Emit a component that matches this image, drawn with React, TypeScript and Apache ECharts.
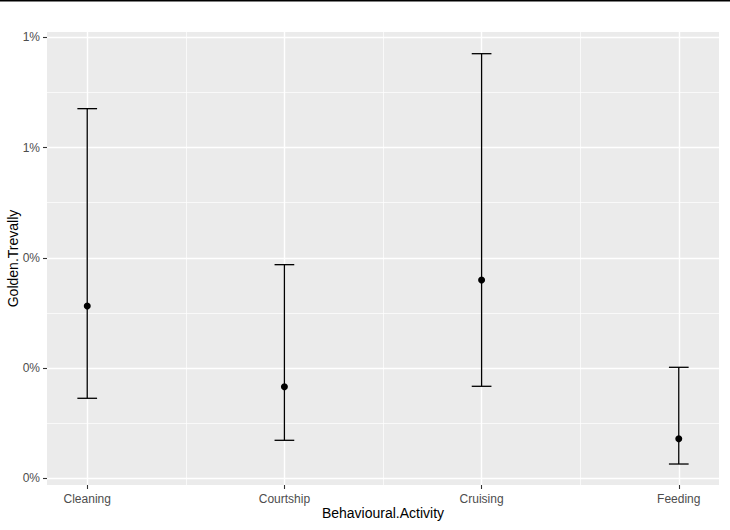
import * as echarts from 'echarts';
import { useEffect, useRef } from 'react';

const categories = ['Cleaning', 'Courtship', 'Cruising', 'Feeding'];
const means = [0.3907, 0.2076, 0.4496, 0.0896];
const lowers = [0.1813, 0.086, 0.2085, 0.0322];
const uppers = [0.8383, 0.4844, 0.963, 0.2516];

const yBreaks = [0, 0.25, 0.5, 0.75, 1];
const yMinorBreaks = [0.125, 0.375, 0.625, 0.875];
const xBreaks = [0, 1, 2, 3];
const xMinorBreaks = [0.5, 1.5, 2.5];

const FONT = '"Liberation Sans", Arial, sans-serif';

// R's percent() rounds half to even, hence "0%" for 0.5%
const pctLabel = (v: number) => {
  const f = Math.floor(v);
  const d = v - f;
  let r = f;
  if (d > 0.5 + 1e-9) r = f + 1;
  else if (Math.abs(d - 0.5) <= 1e-9) r = f % 2 === 0 ? f : f + 1;
  return r + '%';
};

const hiddenLine = { show: true, onZero: false, lineStyle: { color: 'rgba(0,0,0,0)' } };

function App() {
  const chartRef = useRef(null);

  useEffect(() => {
    document.body.style.margin = '0';
    const myChart = echarts.init(chartRef.current, null, { renderer: 'svg' });

    const xRange = { min: -0.204, max: 3.204 };
    const yRange = { min: -0.0154, max: 1.0122 };

    const option = {
      animation: false,
      backgroundColor: '#ffffff',
      textStyle: { fontFamily: FONT },
      graphic: [
        {
          type: 'rect',
          shape: { x: 0, y: 0, width: 730, height: 1.5 },
          style: { fill: '#000000' },
        },
      ],
      grid: {
        left: 47,
        right: 11,
        top: 32,
        bottom: 45,
        show: true,
        backgroundColor: '#EBEBEB',
        borderWidth: 0,
        containLabel: false,
        outerBoundsMode: 'none',
      },
      xAxis: [
        {
          type: 'value',
          ...xRange,
          position: 'bottom',
          name: 'Behavioural.Activity',
          nameLocation: 'middle',
          nameGap: 21,
          nameMoveOverlap: false,
          nameTextStyle: { color: '#000000', fontSize: 14, fontFamily: FONT },
          axisLine: hiddenLine,
          axisTick: {
            show: true,
            length: 4,
            customValues: xBreaks,
            lineStyle: { color: '#333333', width: 1.1 },
          },
          axisLabel: {
            customValues: xBreaks,
            color: '#4D4D4D',
            fontSize: 12,
            fontFamily: FONT,
            margin: 8,
            formatter: (v: number) => categories[Math.round(v)] ?? '',
          },
          splitLine: { show: true, lineStyle: { color: '#ffffff', width: 1.4 } },
        },
        {
          type: 'value',
          ...xRange,
          position: 'bottom',
          axisLine: { show: false, onZero: false },
          axisTick: { show: false, customValues: xMinorBreaks },
          axisLabel: { show: false, customValues: xMinorBreaks },
          splitLine: { show: true, lineStyle: { color: '#ffffff', width: 0.7 } },
        },
      ],
      yAxis: [
        {
          type: 'value',
          ...yRange,
          position: 'left',
          name: 'Golden.Trevally',
          nameLocation: 'middle',
          nameGap: 27,
          nameMoveOverlap: false,
          nameTextStyle: { color: '#000000', fontSize: 14, fontFamily: FONT },
          axisLine: hiddenLine,
          axisTick: {
            show: true,
            length: 4,
            customValues: yBreaks,
            lineStyle: { color: '#333333', width: 1.1 },
          },
          axisLabel: {
            customValues: yBreaks,
            color: '#4D4D4D',
            fontSize: 12,
            fontFamily: FONT,
            margin: 7,
            formatter: pctLabel,
          },
          splitLine: { show: true, lineStyle: { color: '#ffffff', width: 1.4 } },
        },
        {
          type: 'value',
          ...yRange,
          position: 'left',
          axisLine: { show: false, onZero: false },
          axisTick: { show: false, customValues: yMinorBreaks },
          axisLabel: { show: false, customValues: yMinorBreaks },
          splitLine: { show: true, lineStyle: { color: '#ffffff', width: 0.7 } },
        },
      ],
      series: [
        {
          type: 'custom',
          xAxisIndex: 0,
          yAxisIndex: 0,
          data: categories.map((_, i) => [i, lowers[i], uppers[i]]),
          renderItem: (_params: any, api: any) => {
            const x = api.value(0);
            const lo = api.coord([x, api.value(1)]);
            const hi = api.coord([x, api.value(2)]);
            const half = api.size([0.05, 0])[0];
            const style = { stroke: '#000000', lineWidth: 1.3 };
            return {
              type: 'group',
              children: [
                { type: 'line', shape: { x1: lo[0], y1: lo[1], x2: hi[0], y2: hi[1] }, style },
                { type: 'line', shape: { x1: hi[0] - half, y1: hi[1], x2: hi[0] + half, y2: hi[1] }, style },
                { type: 'line', shape: { x1: lo[0] - half, y1: lo[1], x2: lo[0] + half, y2: lo[1] }, style },
              ],
            };
          },
          z: 3,
        },
        {
          type: 'scatter',
          xAxisIndex: 0,
          yAxisIndex: 0,
          symbol: 'circle',
          symbolSize: 7,
          itemStyle: { color: '#000000', opacity: 1 },
          data: categories.map((_, i) => [i, means[i]]),
          z: 4,
        },
      ],
    };

    myChart.setOption(option);

    return () => {
      myChart.dispose();
    };
  }, []);

  return <div ref={chartRef} style={{ width: '730px', height: '530px' }}></div>;
}

export default App;
